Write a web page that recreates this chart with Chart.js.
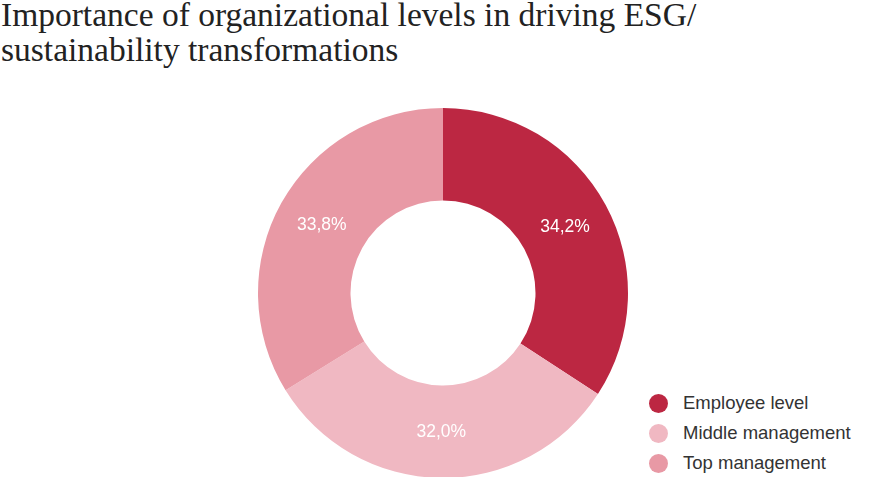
<!DOCTYPE html>
<html><head><meta charset="utf-8">
<script src="https://cdn.jsdelivr.net/npm/chart.js"></script>
<style>
body{margin:0;width:891px;height:477px;background:#fff;position:relative;overflow:hidden}
#title{position:absolute;left:1px;top:-3px;font-family:"Liberation Serif","DejaVu Serif",serif;font-size:33.5px;line-height:35px;color:#222}
#wrap{position:absolute;left:256px;top:106px;width:374px;height:374px}
#legend{position:absolute;left:649px;top:388px;font-family:"Liberation Sans",Arial,sans-serif;font-size:18.5px;color:#333}
.row{height:30px;display:flex;align-items:center}
.dot{width:19px;height:19px;border-radius:50%;margin-right:15px}
</style></head><body>
<div id="title">Importance of organizational levels in driving ESG/<br>sustainability transformations</div>
<div id="wrap"><canvas id="c"></canvas></div>
<div id="legend"></div>
<script>
const categories=["Employee level","Middle management","Top management"];
const values=[34.2,32.0,33.8];
const colors=["#BC2742","#F0B8C2","#E899A5"];
const lg=document.getElementById('legend');
categories.forEach((c,i)=>{lg.innerHTML+=`<div class="row"><div class="dot" style="background:${colors[i]}"></div>${c}</div>`;});
const labelPlugin={id:'lbl',afterDatasetsDraw(chart){
  const ctx=chart.ctx;const meta=chart.getDatasetMeta(0);
  ctx.save();ctx.font='17.5px "Liberation Sans",Arial,sans-serif';ctx.fillStyle='#fff';ctx.textAlign='center';ctx.textBaseline='middle';
  meta.data.forEach((a,i)=>{const p=a.tooltipPosition();ctx.fillText(values[i].toFixed(1).replace('.',',')+'%',p.x,p.y);});
  ctx.restore();}};
new Chart(document.getElementById('c'),{type:'doughnut',
 data:{labels:categories,datasets:[{data:values,backgroundColor:colors,borderWidth:0}]},
 options:{responsive:true,maintainAspectRatio:false,animation:false,cutout:'50%',layout:{padding:2},
  plugins:{legend:{display:false},tooltip:{enabled:false}}},
 plugins:[labelPlugin]});
</script></body></html>
